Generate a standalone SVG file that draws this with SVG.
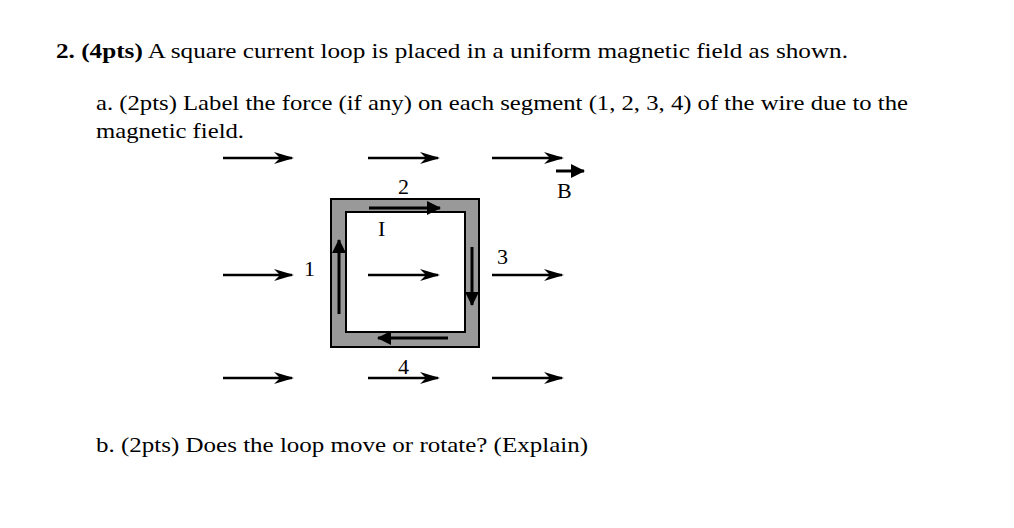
<svg xmlns="http://www.w3.org/2000/svg" width="1014" height="528" viewBox="0 0 1014 528">
<style>
text{font-family:"Liberation Serif","Times New Roman",serif;font-size:22px;fill:#000}
.f{stroke:#000;stroke-width:2.5;fill:none}
.c{stroke:#000;stroke-width:3;fill:none}
</style>
<defs>
<marker id="ah" viewBox="0 0 20 12" refX="18" refY="6" markerWidth="20" markerHeight="12" markerUnits="userSpaceOnUse" orient="auto"><path d="M0,0 L20,6 L0,12 L6,6 Z" fill="#000"/></marker>
<marker id="ac" viewBox="0 0 14 14" refX="13" refY="7" markerWidth="14" markerHeight="14" markerUnits="userSpaceOnUse" orient="auto"><path d="M0,0 L14,7 L0,14 Z" fill="#000"/></marker>
</defs>
<rect width="1014" height="528" fill="#fff"/>
<text x="56" y="58" textLength="792" lengthAdjust="spacingAndGlyphs"><tspan font-weight="bold">2.  (4pts)</tspan> A square current loop is placed in a uniform magnetic field as shown.</text>
<text x="96" y="110" textLength="812" lengthAdjust="spacingAndGlyphs">a. (2pts) Label the force (if any) on each segment (1, 2, 3, 4) of the wire due to the</text>
<text x="96" y="138" textLength="148" lengthAdjust="spacingAndGlyphs">magnetic field.</text>
<text x="96" y="452" textLength="492" lengthAdjust="spacingAndGlyphs">b. (2pts) Does the loop move or rotate? (Explain)</text>
<g id="loop">
<path d="M331,199 H479 V347 H331 Z M346,212 V332 H465 V212 Z" fill="#999" fill-rule="evenodd" stroke="#000" stroke-width="2"/>
</g>
<g id="connectors">
<line class="f" x1="223" y1="158" x2="292" y2="158" marker-end="url(#ah)"/>
<line class="f" x1="368" y1="158" x2="438" y2="158" marker-end="url(#ah)"/>
<line class="f" x1="492" y1="158" x2="562" y2="158" marker-end="url(#ah)"/>
<line class="f" x1="223" y1="275" x2="292" y2="275" marker-end="url(#ah)"/>
<line class="f" x1="368" y1="275" x2="438" y2="275" marker-end="url(#ah)"/>
<line class="f" x1="492" y1="275" x2="562" y2="275" marker-end="url(#ah)"/>
<line class="f" x1="223" y1="378" x2="292" y2="378" marker-end="url(#ah)"/>
<line class="f" x1="368" y1="378" x2="438" y2="378" marker-end="url(#ah)"/>
<line class="f" x1="492" y1="378" x2="562" y2="378" marker-end="url(#ah)"/>
<line class="c" x1="369" y1="208" x2="440" y2="208" marker-end="url(#ac)"/>
<line class="c" x1="339" y1="314" x2="339" y2="240" marker-end="url(#ac)"/>
<line class="c" x1="472" y1="247" x2="472" y2="305" marker-end="url(#ac)"/>
<line class="c" x1="448" y1="338" x2="378" y2="338" marker-end="url(#ac)"/>
<line class="c" x1="556" y1="171" x2="584" y2="171" marker-end="url(#ac)"/>
</g>
<g id="labels">
<text x="398" y="194">2</text>
<text x="378" y="236">I</text>
<text x="304" y="276">1</text>
<text x="497" y="264">3</text>
<text x="398" y="374">4</text>
<text x="557" y="198">B</text>
</g>
</svg>
